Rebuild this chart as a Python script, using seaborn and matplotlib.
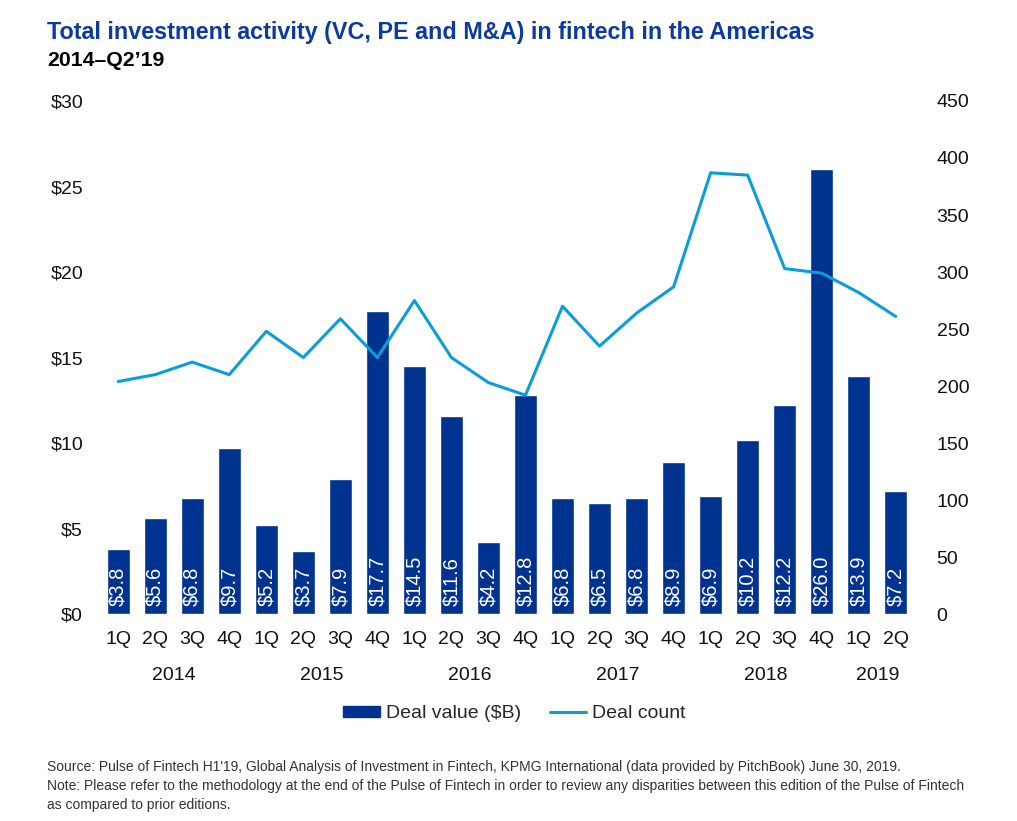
import matplotlib
matplotlib.use("Agg")
import matplotlib.pyplot as plt
import matplotlib.transforms as mtransforms
from matplotlib.patches import Patch
from matplotlib.lines import Line2D
import seaborn as sns
import pandas as pd

# --- data ---
quarters = ["1Q", "2Q", "3Q", "4Q"] * 5 + ["1Q", "2Q"]
years = ["2014", "2015", "2016", "2017", "2018", "2019"]
deal_value = [3.8, 5.6, 6.8, 9.7, 5.2, 3.7, 7.9, 17.7, 14.5, 11.6, 4.2, 12.8,
              6.8, 6.5, 6.8, 8.9, 6.9, 10.2, 12.2, 26.0, 13.9, 7.2]
deal_count = [204, 210, 221, 210, 248, 225, 259, 225, 275, 225, 203, 192,
              270, 235, 264, 287, 387, 385, 303, 299, 282, 261]
left_ticks = [0, 5, 10, 15, 20, 25, 30]
right_ticks = [0, 50, 100, 150, 200, 250, 300, 350, 400, 450]

navy = "#00338f"
light = "#0b9ddb"
title_blue = "#0b3c9c"

sns.set_theme(style="white")
plt.rcParams["font.family"] = ["Liberation Sans", "DejaVu Sans"]

df = pd.DataFrame({"pos": range(len(deal_value)), "value": deal_value, "count": deal_count})

fig = plt.figure(figsize=(10.17, 8.21), dpi=100)
ax = fig.add_axes([0.098, 0.252, 0.801, 0.625])
sns.barplot(data=df, x="pos", y="value", color=navy, width=0.62, saturation=1, ax=ax)
ax.set_ylim(0, 30)
ax.set_xlim(-0.5, len(deal_value) - 0.5)
ax.set_yticks(left_ticks)
ax.set_yticklabels([f"${t}" for t in left_ticks], fontsize=14)
ax.set_xticks(range(len(quarters)))
ax.set_xticklabels(quarters, fontsize=14)
ax.tick_params(axis="both", length=0, pad=12, colors="#111111")
ax.tick_params(axis="y", pad=12)
ax.set_xlabel("")
ax.set_ylabel("")
sns.despine(ax=ax, left=True, bottom=True)

for i, v in enumerate(deal_value):
    ax.text(i, 0.45, f"${v:.1f}", rotation=90, ha="center", va="bottom",
            color="white", fontsize=14.5)

ax2 = ax.twinx()
sns.lineplot(data=df, x="pos", y="count", color=light, linewidth=2.2, ax=ax2)
ax2.set_ylim(0, 450)
ax2.set_yticks(right_ticks)
ax2.set_yticklabels([str(t) for t in right_ticks], fontsize=14)
ax2.tick_params(axis="y", length=0, pad=16, colors="#111111")
ax2.set_ylabel("")
ax2.set_xlabel("")
sns.despine(ax=ax2, left=True, bottom=True, right=True)
ax2.set_xlim(-0.5, len(deal_value) - 0.5)

# year labels under each group
trans = mtransforms.blended_transform_factory(ax.transData, ax.transAxes)
for k, y in enumerate(years):
    start = 4 * k
    end = min(start + 3, len(deal_value) - 1)
    ax.text((start + end) / 2, -0.12, y, transform=trans, ha="center", va="center",
            fontsize=14, color="#111111")

handles = [Patch(facecolor=navy, edgecolor=navy),
           Line2D([0], [0], color=light, linewidth=2.2)]
fig.legend(handles, ["Deal value ($B)", "Deal count"], loc="center",
           bbox_to_anchor=(0.506, 0.131), ncol=2, frameon=False, fontsize=14,
           handlelength=1.9, handleheight=0.5, columnspacing=1.45, handletextpad=0.3)

fig.text(0.046, 0.96, "Total investment activity (VC, PE and M&A) in fintech in the Americas",
         fontsize=16.8, fontweight="bold", color=title_blue, va="center")
fig.text(0.046, 0.926, "2014\u2013Q2\u201919", fontsize=15.3, fontweight="bold",
         color="black", va="center")

note = ("Source: Pulse of Fintech H1'19, Global Analysis of Investment in Fintech, KPMG International "
        "(data provided by PitchBook) June 30, 2019.\n"
        "Note: Please refer to the methodology at the end of the Pulse of Fintech in order to review "
        "any disparities between this edition of the Pulse of Fintech\n"
        "as compared to prior editions.")
fig.text(0.046, 0.0426, note, fontsize=10, color="#333333", va="center", linespacing=1.45)

fig.savefig("out.png", dpi=100)
